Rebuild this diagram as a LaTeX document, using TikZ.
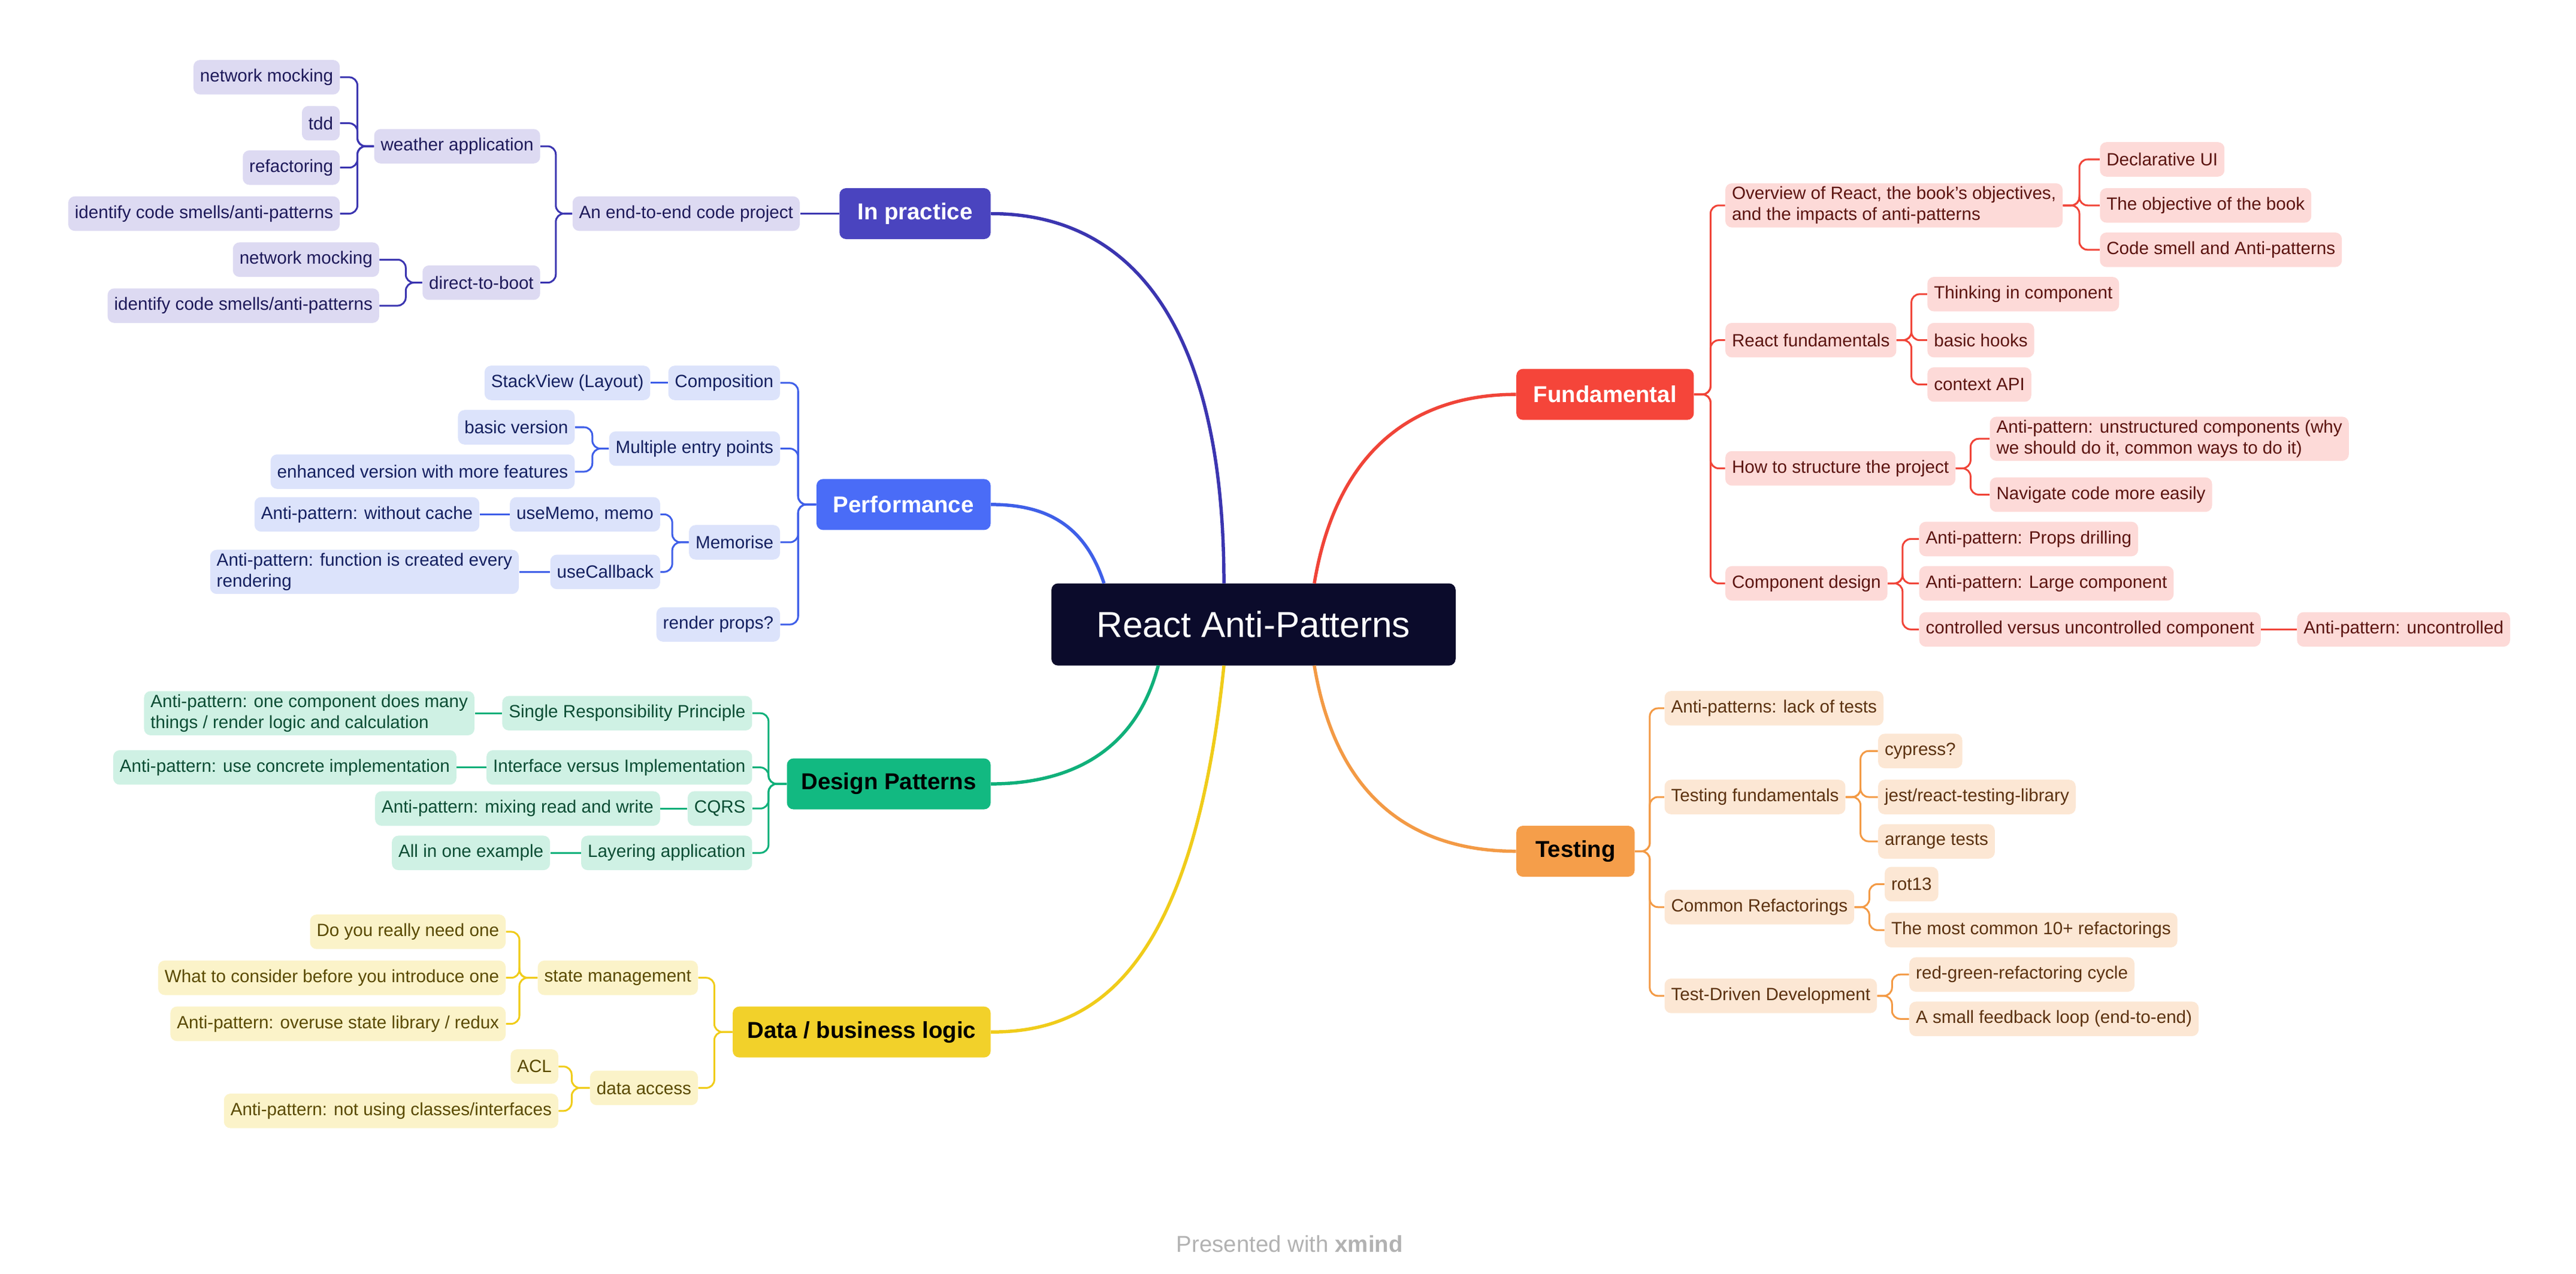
\documentclass[tikz,border=0pt]{standalone}
\usepackage{fontspec}
\setmainfont{Liberation Sans}
\begin{document}
\definecolor{ipN}{HTML}{4A44BF}\definecolor{ipF}{HTML}{DDDAF2}\definecolor{ipT}{HTML}{1E1A5A}\definecolor{ipL}{HTML}{3B35B0}
\definecolor{peN}{HTML}{4A6CF7}\definecolor{peF}{HTML}{DCE3FB}\definecolor{peT}{HTML}{142060}\definecolor{peL}{HTML}{3F5FE8}
\definecolor{dpN}{HTML}{12B981}\definecolor{dpF}{HTML}{CFF1E4}\definecolor{dpT}{HTML}{0B4D34}\definecolor{dpL}{HTML}{10B07A}
\definecolor{daN}{HTML}{F2D12A}\definecolor{daF}{HTML}{FBF3C9}\definecolor{daT}{HTML}{5A4A00}\definecolor{daL}{HTML}{F0CC1A}
\definecolor{fuN}{HTML}{F5453A}\definecolor{fuF}{HTML}{FDDAD8}\definecolor{fuT}{HTML}{5C1410}\definecolor{fuL}{HTML}{F04438}
\definecolor{teN}{HTML}{F59E4A}\definecolor{teF}{HTML}{FCE7D4}\definecolor{teT}{HTML}{5C3210}\definecolor{teL}{HTML}{F39A45}
\definecolor{rootF}{HTML}{0B0B2B}
\tikzset{
 leaf/.style={rounded corners=4pt,inner xsep=4pt,inner ysep=2pt,minimum height=21pt,font=\fontsize{10.8}{12.8}\selectfont,align=left},
 main/.style={rounded corners=4pt,minimum height=31pt,inner xsep=8pt,font=\fontsize{14}{16}\selectfont\bfseries,text=white},
 L/.style={anchor=east,leaf},R/.style={anchor=west,leaf},
 ip/.style={L,fill=ipF,text=ipT}, pe/.style={L,fill=peF,text=peT}, dp/.style={L,fill=dpF,text=dpT}, da/.style={L,fill=daF,text=daT},
 fu/.style={R,fill=fuF,text=fuT}, te/.style={R,fill=teF,text=teT},
 con/.style={line width=1.1pt,rounded corners=5pt},
 curve/.style={line width=2pt}
}
\newcommand{\lconn}[4]{\draw[con,#1] (#2.west) -- ++(-#4,0) |- (#3.east);}
\newcommand{\rconn}[4]{\draw[con,#1] (#2.east) -- ++(#4,0) |- (#3.west);}
\begin{tikzpicture}[x=1pt,y=-1pt]
\useasboundingbox (0,0) rectangle (1568,775);
\node[fill=rootF,rounded corners=4pt,minimum width=246pt,minimum height=50pt,text=white,font=\fontsize{22}{26}\selectfont] (root) at (763,380) {React Anti-Patterns};
% main nodes
\node[main,fill=ipN,minimum width=92pt] (ip) at (557,130) {In practice};
\node[main,fill=peN,minimum width=106pt] (pe) at (550,307) {Performance};
\node[main,fill=dpN,minimum width=124pt,text=black] (dp) at (541,477) {Design Patterns};
\node[main,fill=daN,minimum width=157pt,text=black] (da) at (524.5,628) {Data / business logic};
\node[main,fill=fuN,minimum width=108pt] (fu) at (977,240) {Fundamental};
\node[main,fill=teN,minimum width=72pt,text=black] (te) at (959,518) {Testing};
% root curves
\draw[curve,ipL] (745,355) .. controls (745,200) and (690,130) .. (ip.east);
\draw[curve,peL] (672,355) .. controls (660,318) and (635,307) .. (pe.east);
\draw[curve,dpL] (705,405) .. controls (690,462) and (645,477) .. (dp.east);
\draw[curve,daL] (745,405) .. controls (725,600) and (660,628) .. (da.east);
\draw[curve,fuL] (800,355) .. controls (815,265) and (870,240) .. (fu.west);
\draw[curve,teL] (800,405) .. controls (815,495) and (870,518) .. (te.west);
% In practice
\node[ip] (e2e) at (487,130) {An end-to-end code project};
\node[ip] (wa) at (329,89) {weather application};
\node[ip] (db) at (329,172) {direct-to-boot};
\node[ip] (w1) at (207,47) {network mocking};
\node[ip] (w2) at (207,75) {tdd};
\node[ip] (w3) at (207,102) {refactoring};
\node[ip] (w4) at (207,130) {identify code smells/anti-patterns};
\node[ip] (d1) at (231,158) {network mocking};
\node[ip] (d2) at (231,186) {identify code smells/anti-patterns};
\draw[con,ipL] (ip.west) -- (e2e.east);
\lconn{ipL}{e2e}{wa}{10}\lconn{ipL}{e2e}{db}{10}
\lconn{ipL}{wa}{w1}{10}\lconn{ipL}{wa}{w2}{10}\lconn{ipL}{wa}{w3}{10}\lconn{ipL}{wa}{w4}{10}
\lconn{ipL}{db}{d1}{10}\lconn{ipL}{db}{d2}{10}
% Performance
\node[pe] (comp) at (475,233) {Composition};
\node[pe] (mep) at (475,273) {Multiple entry points};
\node[pe] (mem) at (475,330) {Memorise};
\node[pe] (rp) at (475,380) {render props?};
\node[pe] (sv) at (396,233) {StackView (Layout)};
\node[pe] (bv) at (350,260) {basic version};
\node[pe] (ev) at (350,287) {enhanced version with more features};
\node[pe] (um) at (402,313) {useMemo, memo};
\node[pe] (uc) at (402,348) {useCallback};
\node[pe] (wc) at (292,313) {Anti-pattern: without cache};
\node[pe] (fc) at (316,348) {Anti-pattern: function is created every\\rendering};
\lconn{peL}{pe}{comp}{11}\lconn{peL}{pe}{mep}{11}\lconn{peL}{pe}{mem}{11}\lconn{peL}{pe}{rp}{11}
\draw[con,peL] (comp.west) -- (sv.east);
\lconn{peL}{mep}{bv}{10}\lconn{peL}{mep}{ev}{10}
\lconn{peL}{mem}{um}{10}\lconn{peL}{mem}{uc}{10}
\draw[con,peL] (um.west) -- (wc.east);
\draw[con,peL] (uc.west) -- (fc.east);
% Design patterns
\node[dp] (srp) at (458,434) {Single Responsibility Principle};
\node[dp] (ivi) at (458,467) {Interface versus Implementation};
\node[dp] (cqrs) at (458,492) {CQRS};
\node[dp] (lay) at (458,519) {Layering application};
\node[dp] (s1) at (289,434) {Anti-pattern: one component does many\\things / render logic and calculation};
\node[dp] (i1) at (278,467) {Anti-pattern: use concrete implementation};
\node[dp] (c1) at (402,492) {Anti-pattern: mixing read and write};
\node[dp] (l1) at (335,519) {All in one example};
\lconn{dpL}{dp}{srp}{11}\lconn{dpL}{dp}{ivi}{11}\lconn{dpL}{dp}{cqrs}{11}\lconn{dpL}{dp}{lay}{11}
\draw[con,dpL] (srp.west) -- (s1.east);
\draw[con,dpL] (ivi.west) -- (i1.east);
\draw[con,dpL] (cqrs.west) -- (c1.east);
\draw[con,dpL] (lay.west) -- (l1.east);
% Data
\node[da] (sm) at (425,595) {state management};
\node[da] (dac) at (425,662) {data access};
\node[da] (sm1) at (308,567) {Do you really need one};
\node[da] (sm2) at (308,595) {What to consider before you introduce one};
\node[da] (sm3) at (308,623) {Anti-pattern: overuse state library / redux};
\node[da] (acl) at (340,649) {ACL};
\node[da] (nc) at (340,676) {Anti-pattern: not using classes/interfaces};
\lconn{daL}{da}{sm}{11}\lconn{daL}{da}{dac}{11}
\lconn{daL}{sm}{sm1}{11}\lconn{daL}{sm}{sm2}{11}\lconn{daL}{sm}{sm3}{11}
\lconn{daL}{dac}{acl}{11}\lconn{daL}{dac}{nc}{11}
% Fundamental
\node[fu] (ov) at (1050,125) {Overview of React, the book's objectives,\\and the impacts of anti-patterns};
\node[fu] (rf) at (1050,207) {React fundamentals};
\node[fu] (hs) at (1050,285) {How to structure the project};
\node[fu] (cd) at (1050,355) {Component design};
\node[fu] (o1) at (1278,97) {Declarative UI};
\node[fu] (o2) at (1278,125) {The objective of the book};
\node[fu] (o3) at (1278,152) {Code smell and Anti-patterns};
\node[fu] (r1) at (1173,179) {Thinking in component};
\node[fu] (r2) at (1173,207) {basic hooks};
\node[fu] (r3) at (1173,234) {context API};
\node[fu] (h1) at (1211,267) {Anti-pattern: unstructured components (why\\we should do it, common ways to do it)};
\node[fu] (h2) at (1211,301) {Navigate code more easily};
\node[fu] (c1f) at (1168,328) {Anti-pattern: Props drilling};
\node[fu] (c2f) at (1168,355) {Anti-pattern: Large component};
\node[fu] (c3f) at (1168,383) {controlled versus uncontrolled component};
\node[fu] (c4f) at (1398,383) {Anti-pattern: uncontrolled};
\rconn{fuL}{fu}{ov}{10}\rconn{fuL}{fu}{rf}{10}\rconn{fuL}{fu}{hs}{10}\rconn{fuL}{fu}{cd}{10}
\rconn{fuL}{ov}{o1}{10}\rconn{fuL}{ov}{o2}{10}\rconn{fuL}{ov}{o3}{10}
\rconn{fuL}{rf}{r1}{9}\rconn{fuL}{rf}{r2}{9}\rconn{fuL}{rf}{r3}{9}
\rconn{fuL}{hs}{h1}{9}\rconn{fuL}{hs}{h2}{9}
\rconn{fuL}{cd}{c1f}{9}\rconn{fuL}{cd}{c2f}{9}\rconn{fuL}{cd}{c3f}{9}
\draw[con,fuL] (c3f.east) -- (c4f.west);
% Testing
\node[te] (t1) at (1013,431) {Anti-patterns: lack of tests};
\node[te] (t2) at (1013,485) {Testing fundamentals};
\node[te] (t3) at (1013,552) {Common Refactorings};
\node[te] (t4) at (1013,606) {Test-Driven Development};
\node[te] (t21) at (1143,457) {cypress?};
\node[te] (t22) at (1143,485) {jest/react-testing-library};
\node[te] (t23) at (1143,512) {arrange tests};
\node[te] (t31) at (1147,538) {rot13};
\node[te] (t32) at (1147,566) {The most common 10+ refactorings};
\node[te] (t41) at (1162,593) {red-green-refactoring cycle};
\node[te] (t42) at (1162,620) {A small feedback loop (end-to-end)};
\rconn{teL}{te}{t1}{9}\rconn{teL}{te}{t2}{9}\rconn{teL}{te}{t3}{9}\rconn{teL}{te}{t4}{9}
\rconn{teL}{t2}{t21}{9}\rconn{teL}{t2}{t22}{9}\rconn{teL}{t2}{t23}{9}
\rconn{teL}{t3}{t31}{9}\rconn{teL}{t3}{t32}{9}
\rconn{teL}{t4}{t41}{9}\rconn{teL}{t4}{t42}{9}
\node[text=black!30,font=\fontsize{14}{16}\selectfont] (foot) at (785,757) {Presented with \textbf{xmind}};
\end{tikzpicture}
\end{document}
